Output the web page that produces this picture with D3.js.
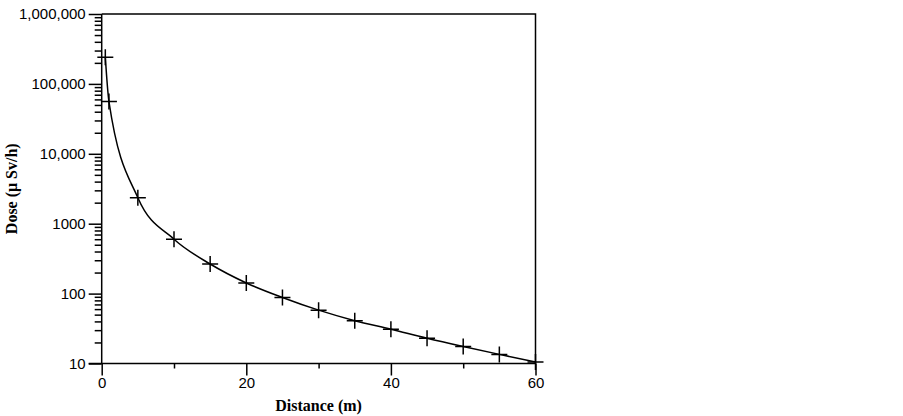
<!DOCTYPE html>
<html><head><meta charset="utf-8">
<script src="https://cdn.jsdelivr.net/npm/d3@7"></script>
<style>body{margin:0;background:#fff}svg{font-family:"Liberation Serif","Times New Roman",serif}</style>
</head><body><svg id="c" width="903" height="416"></svg>
<script>
const distances = [0.5, 1, 5, 10, 15, 20, 25, 30, 35, 40, 45, 50, 55, 60];
const doses = [240000, 56000, 2350, 600, 265, 142, 88, 58, 41, 31, 23, 17.5, 13.5, 10.5];
const yTicks = [10, 100, 1000, 10000, 100000, 1000000];
const yLabels = ["10", "100", "1000", "10,000", "100,000", "1,000,000"];
const xTicks = [0, 20, 40, 60];

const svg = d3.select("#c");
const L = 101.7, R = 535.5, T = 14, B = 363.5;
const x = d3.scaleLinear().domain([0, 60]).range([L, R]);
const y = d3.scaleLog().domain([10, 1000000]).range([B, T]);

// minor y ticks
const minor = [];
for (let d = 10; d < 1000000; d *= 10) for (let k = 2; k <= 9; k++) minor.push(d * k);
svg.append("g").attr("transform", `translate(${L},0)`)
  .call(d3.axisLeft(y).tickValues(minor).tickSize(7).tickFormat(""))
  .call(g => g.select(".domain").remove())
  .call(g => g.selectAll("line").attr("stroke-width", 1.5));
svg.append("g").attr("transform", `translate(${L},0)`)
  .call(d3.axisLeft(y).tickValues(yTicks).tickSize(13).tickPadding(3).tickFormat((d, i) => yLabels[i]))
  .call(g => g.select(".domain").attr("stroke-width", 1.5).attr("d", `M0,${B}V${T}`))
  .call(g => g.selectAll("line").attr("stroke-width", 1.5))
  .call(g => g.selectAll("text").attr("font-size", 15).attr("fill", "#000"));
// x axis
svg.append("g").attr("transform", `translate(0,${B})`)
  .call(d3.axisBottom(x).tickValues([10, 30, 50]).tickSize(5).tickFormat(""))
  .call(g => g.select(".domain").remove())
  .call(g => g.selectAll("line").attr("stroke-width", 1.5));
svg.append("g").attr("transform", `translate(0,${B})`)
  .call(d3.axisBottom(x).tickValues(xTicks).tickSize(12).tickPadding(2))
  .call(g => g.select(".domain").attr("stroke-width", 1.5).attr("d", `M${L - 13},0H${R}`))
  .call(g => g.selectAll("line").attr("stroke-width", 1.5))
  .call(g => g.selectAll("text").attr("font-size", 15).attr("fill", "#000"));
// frame
svg.append("path").attr("d", `M${L},${T}H${R}V${B}`).attr("fill", "none").attr("stroke", "#000").attr("stroke-width", 1.5);

const pts = distances.map((d, i) => [x(d), y(doses[i])]);
svg.append("path").attr("d", d3.line().curve(d3.curveMonotoneX)(pts))
  .attr("fill", "none").attr("stroke", "#000").attr("stroke-width", 1.5);
svg.append("g").selectAll("path").data(pts).join("path")
  .attr("d", p => `M${p[0] - 8},${p[1]}H${p[0] + 8}M${p[0]},${p[1] - 8}V${p[1] + 8}`)
  .attr("stroke", "#000").attr("stroke-width", 1.5);

svg.append("text").attr("x", (L + R) / 2).attr("y", 411).attr("text-anchor", "middle")
  .attr("font-size", 16).attr("font-weight", "bold").text("Distance (m)");
svg.append("text").attr("transform", `translate(17,${(T + B) / 2}) rotate(-90)`).attr("text-anchor", "middle")
  .attr("font-size", 16).attr("font-weight", "bold").text("Dose (μ Sv/h)");
</script></body></html>
